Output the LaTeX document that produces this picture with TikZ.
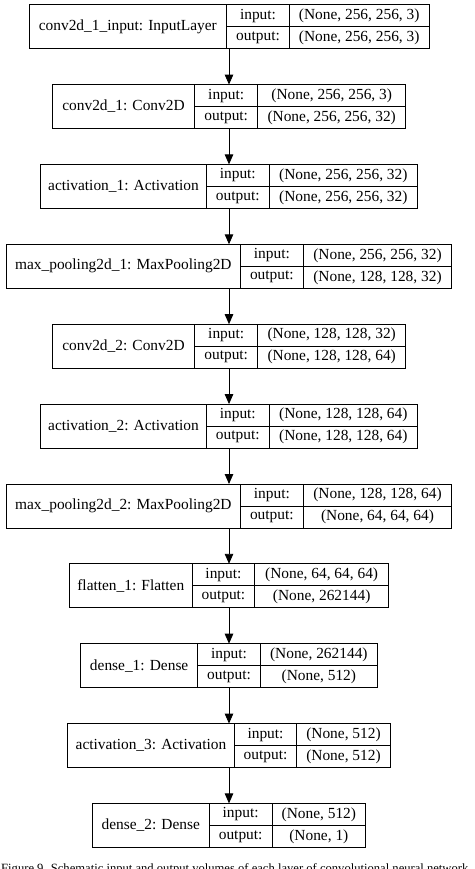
\documentclass[tikz,border=0pt]{standalone}
\usepackage{fontspec}
\setmainfont{Liberation Serif}
\usetikzlibrary{arrows.meta, positioning}

% one layer record: id, top y, name width, value width, label, input, output
\newcommand{\layerrec}[7]{%
  \node[rec, minimum width=#3pt+62.7pt+#4pt, anchor=north] (#1) at (229,#2) {};
  \node[cell, minimum width=#3pt, minimum height=44pt] (#1-name) at (#1.north west) {#5};
  \node[cell, minimum width=62.7pt] (#1-in) at (#1-name.north east) {input:};
  \node[cell, minimum width=62.7pt] (#1-out) at (#1-in.south west) {output:};
  \node[cell, minimum width=#4pt] (#1-inval) at (#1-in.north east) {#6};
  \node[cell, minimum width=#4pt] (#1-outval) at (#1-out.north east) {#7};
}

\begin{document}
\begin{tikzpicture}[x=1pt, y=-1pt,
    rec/.style={draw, line width=0.9pt, inner sep=0pt, outer sep=0pt, minimum height=44pt},
    cell/.style={draw, line width=0.9pt, inner sep=0pt, outer sep=0pt, minimum height=22pt,
                 anchor=north west, font=\fontsize{15.4}{18}\selectfont},
    arr/.style={line width=0.9pt, -{Triangle[length=10pt, width=8.5pt]}}]
        \useasboundingbox[fill=white] (0,0) rectangle (474,869);

        % layer records
        \layerrec{l1}{4.7}{197.7}{139.7}{conv2d\_1\_input: InputLayer}{(None, 256, 256, 3)}{(None, 256, 256, 3)}
        \layerrec{l2}{84.6}{142.7}{148.3}{conv2d\_1: Conv2D}{(None, 256, 256, 3)}{(None, 256, 256, 32)}
        \layerrec{l3}{164.4}{166}{148.4}{activation\_1: Activation}{(None, 256, 256, 32)}{(None, 256, 256, 32)}
        \layerrec{l4}{244.3}{234.3}{148.6}{max\_pooling2d\_1: MaxPooling2D}{(None, 256, 256, 32)}{(None, 128, 128, 32)}
        \layerrec{l5}{324.2}{142.7}{148.3}{conv2d\_2: Conv2D}{(None, 128, 128, 32)}{(None, 128, 128, 64)}
        \layerrec{l6}{404.1}{166}{148.4}{activation\_2: Activation}{(None, 128, 128, 64)}{(None, 128, 128, 64)}
        \layerrec{l7}{484}{234.3}{148.6}{max\_pooling2d\_2: MaxPooling2D}{(None, 128, 128, 64)}{(None, 64, 64, 64)}
        \layerrec{l8}{563.8}{122.6}{133.7}{flatten\_1: Flatten}{(None, 64, 64, 64)}{(None, 262144)}
        \layerrec{l9}{643.7}{117}{117}{dense\_1: Dense}{(None, 262144)}{(None, 512)}
        \layerrec{l10}{723.6}{166.3}{93.3}{activation\_3: Activation}{(None, 512)}{(None, 512)}
        \layerrec{l11}{803.4}{117}{93.7}{dense\_2: Dense}{(None, 512)}{(None, 1)}

        % arrows between layers
        \foreach \a/\b in {l1/l2, l2/l3, l3/l4, l4/l5, l5/l6, l6/l7, l7/l8, l8/l9, l9/l10, l10/l11}
            \draw[arr] (\a.south) -- (\b.north);

        % caption, cut off at the bottom edge as in the original
        \node[anchor=base west, inner sep=0pt, font=\fontsize{12.6}{15}\selectfont] (cap) at (1,872)
            {Figure 9. Schematic input and output volumes of each layer of convolutional neural network};
    \end{tikzpicture}
\end{document}
